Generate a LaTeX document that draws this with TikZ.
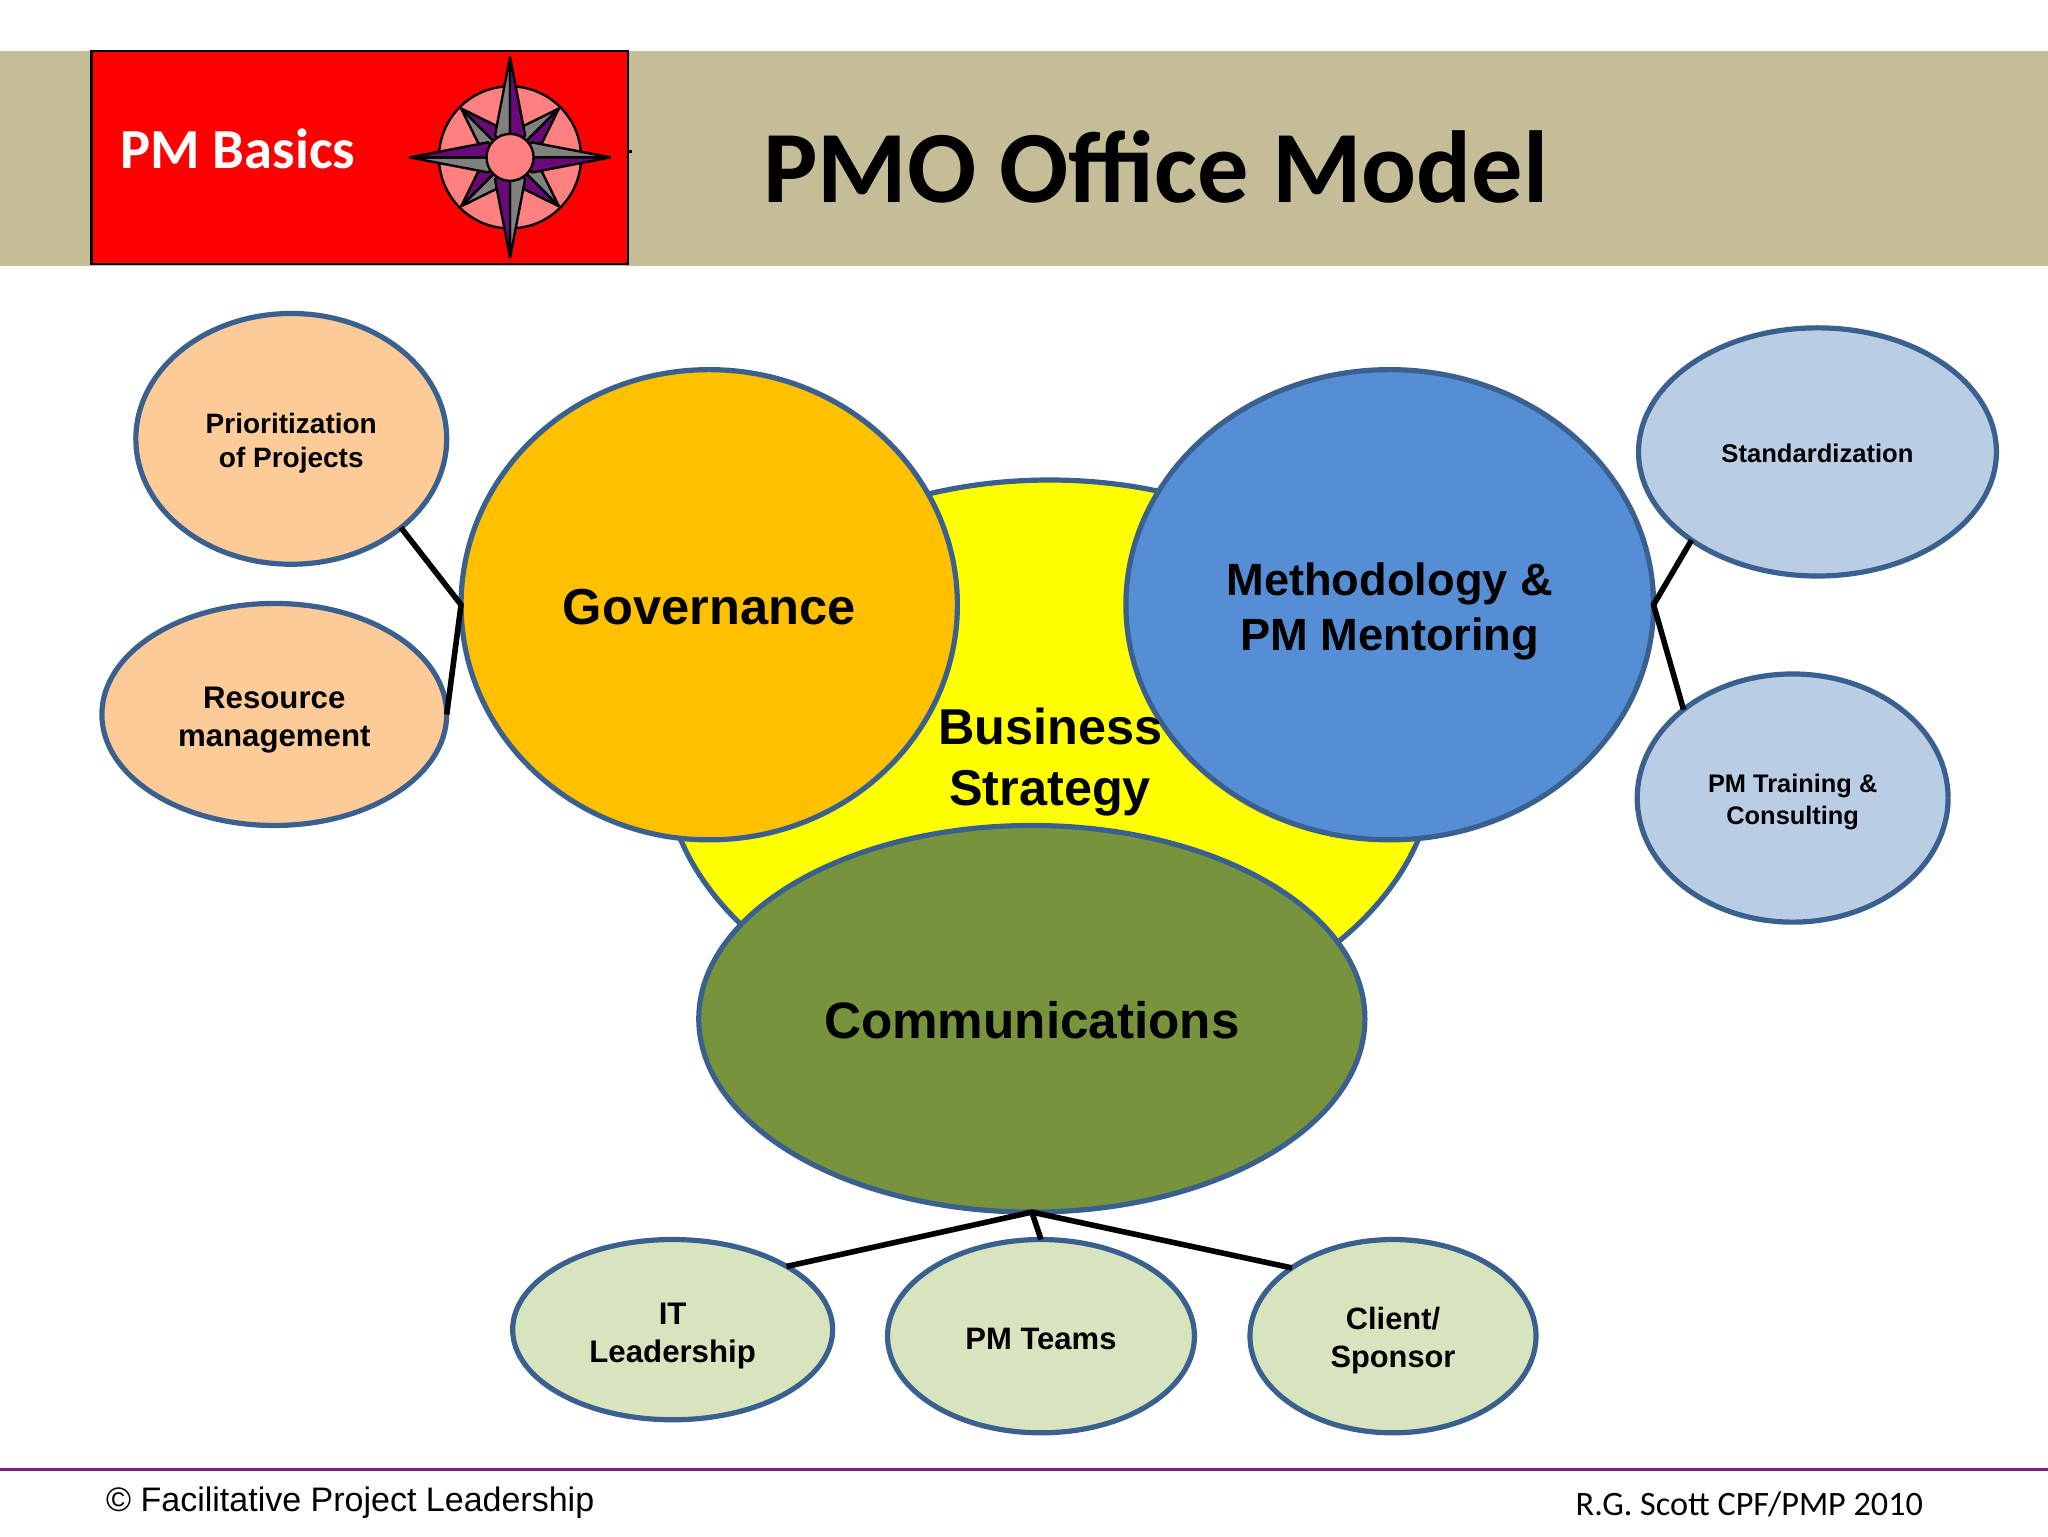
\documentclass[tikz,border=0pt]{standalone}
\usepackage{fontspec}
\setmainfont{Liberation Sans}
\newfontfamily\carl{Carlito}
\usetikzlibrary{shapes.geometric}
\definecolor{band}{HTML}{C4BD97}
\definecolor{edgeblue}{HTML}{3A6090}
\definecolor{peach}{HTML}{FDCB98}
\definecolor{gold}{HTML}{FFC000}
\definecolor{midblue}{HTML}{558ED5}
\definecolor{olive}{HTML}{77933C}
\definecolor{paleblue}{HTML}{B9CDE5}
\definecolor{palegreen}{HTML}{D7E4BD}
\definecolor{footline}{HTML}{7F1A7F}
\definecolor{cpurple}{HTML}{6A0A7A}
\definecolor{cpink}{HTML}{FF8080}
\definecolor{sunyellow}{RGB}{255,255,0}
\definecolor{pureblack}{RGB}{0,0,0}
\newcommand\dn[1]{\rule{0pt}{\dimexpr0.73em+#1pt*2\relax}}
\tikzset{
  ell/.style n args={2}{ellipse,draw=edgeblue,line width=2.6pt,inner sep=0pt,outer sep=0pt,align=center,
    minimum width=#1*0.65306pt,minimum height=#2*0.65306pt},
  txt/.style n args={2}{font=\bfseries\fontsize{#1}{#2}\selectfont},
  link/.style={draw=black,line width=2.8pt,line join=miter},
  starline/.style={draw=black,line width=1.2pt,line join=miter,miter limit=4},
}
\begin{document}
\begin{tikzpicture}[x=0.65306pt,y=-0.65306pt]
\useasboundingbox (0,0) rectangle (1568,1176);
\fill[white] (0,0) rectangle (1568,1176);
% header
\fill[band] (0,39) rectangle (1568,204);
\draw[black,line width=1.2pt,fill=red] (70,39) rectangle (481,202);
\draw[black,line width=1.2pt] (481,116) -- (484,116);
% compass
\filldraw[starline,fill=cpink] (390.5,120.5) circle (54.4);
\foreach \a in {45,135,225,315}{
  \begin{scope}[shift={(390.5,120.5)},rotate=\a]
    \filldraw[starline,fill=gray] (0,-53) -- (-9.5,-25) -- (0,0) -- cycle;
    \filldraw[starline,fill=cpurple] (0,-53) -- (9.5,-25) -- (0,0) -- cycle;
  \end{scope}
}
\foreach \a in {0,90,180,270}{
  \begin{scope}[shift={(390.5,120.5)},rotate=\a]
    \filldraw[starline,fill=gray] (0,-77) -- (-11.5,-17) -- (0,0) -- cycle;
    \filldraw[starline,fill=cpurple] (0,-77) -- (11.5,-17) -- (0,0) -- cycle;
  \end{scope}
}
\filldraw[starline,fill=cpink] (390.5,120.5) circle (18);
\node[anchor=base west,inner sep=0pt,text=white,font=\carl\bfseries\fontsize{28.3}{30}\selectfont] (pmb) at (92,129) {PM Basics};
\node[anchor=base west,inner sep=0pt,font=\carl\bfseries\fontsize{51.2}{56}\selectfont] (title) at (584,155) {PMO Office Model};
% main ellipses
\node[ell={591}{425},fill=sunyellow] (biz) at (803.5,580) {};
\node[ell={380}{360},fill=gold,txt={25.3}{30}] (gov) at (543,463) {\dn{.65}Governance};
\node[ell={404}{360},fill=midblue,txt={22.6}{27.4}] (meth) at (1064,463) {\dn{3.2}Methodology \&\\PM Mentoring};
\node[ell={510}{296},fill=olive,txt={25.6}{30}] (comm) at (790,780) {\dn{.65}Communications};
\node[txt={25.2}{30.7},align=center,inner sep=0pt] (bizt) at (804,583.5) {Business\\Strategy};
% side ellipses
\node[ell={238}{192},fill=peach,txt={14}{17}] (prio) at (223,336) {\dn{2}Prioritization\\of Projects};
\node[ell={264}{170},fill=peach,txt={15.6}{19}] (res) at (210,547) {\dn{2.6}Resource\\management};
\node[ell={274}{190},fill=paleblue,txt={12.8}{15}] (std) at (1391.5,346) {\dn{.65}Standardization};
\node[ell={238}{190},fill=paleblue,txt={12.7}{15.7}] (train) at (1372.5,611) {\dn{2}PM Training \&\\Consulting};
\node[ell={245}{138},fill=palegreen,txt={15.6}{19}] (it) at (515,1018) {\dn{2.6}IT\\Leadership};
\node[ell={235}{148},fill=palegreen,txt={15.5}{19}] (team) at (797,1023) {\dn{1.3}PM Teams};
\node[ell={219}{148},fill=palegreen,txt={15.4}{19}] (client) at (1066.5,1023) {\dn{2}Client/\\Sponsor};
% connectors
\draw[link] (prio.-39) -- (gov.west) -- (res.east);
\draw[link] (std.215) -- (meth.east) -- (train.141);
\draw[link] (it.29) -- (comm.south) -- (client.146);
\draw[link] (comm.south) -- (team.north);
% footer
\draw[footline,line width=1.5pt] (0,1125) -- (1568,1125);
\node[anchor=base west,inner sep=0pt,font=\fontsize{17}{20}\selectfont] (fl) at (81,1157) {© Facilitative Project Leadership};
\node[anchor=base west,inner sep=0pt,font=\carl\fontsize{17.1}{20}\selectfont] (rg) at (1206,1160) {R.G. Scott CPF/PMP 2010};
\end{tikzpicture}
\end{document}
